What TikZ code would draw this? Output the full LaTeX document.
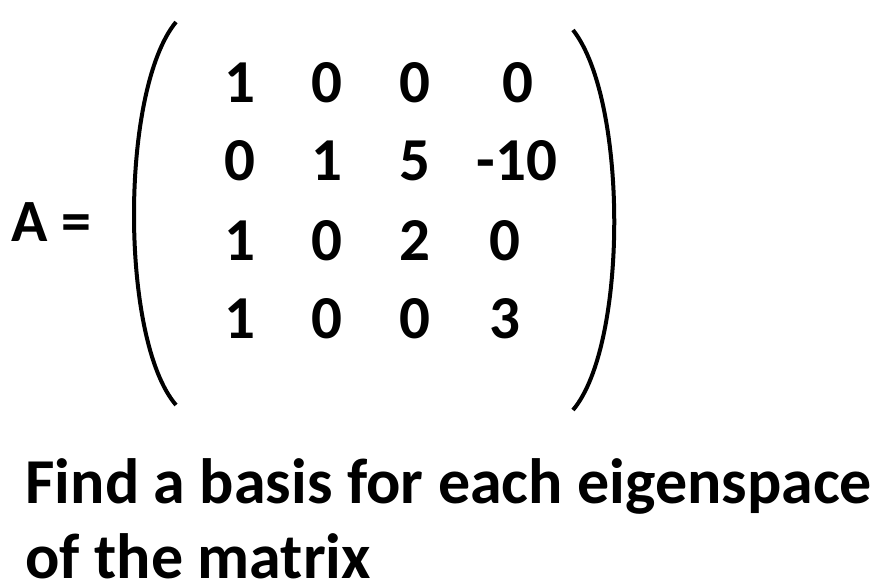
\documentclass[tikz,border=0pt]{standalone}
\usepackage{fontspec}
\setmainfont{Carlito}
\begin{document}
\begin{tikzpicture}[x=1pt,y=-1pt,
  ent/.style={font=\fontsize{61}{63}\selectfont\bfseries,anchor=base},
  par/.style={line width=4pt}]
\useasboundingbox (0,0) rectangle (875,588);
\fill[white] (0,0) rectangle (875,588);
\node[anchor=base west,font=\fontsize{60}{62}\selectfont\bfseries] (lhs) at (8,241) {A =};
\draw[par] (176,22) .. controls (120,90) and (120,340) .. (176,405);
\draw[par] (573,30) .. controls (628,100) and (628,345) .. (573,410);
\node[ent] (a11) at (240,103) {1};
\node[ent] (a12) at (327,103) {0};
\node[ent] (a13) at (415,103) {0};
\node[ent] (a14) at (518,103) {0};
\node[ent] (a21) at (240,181) {0};
\node[ent] (a22) at (327,181) {1};
\node[ent] (a23) at (415,181) {5};
\node[ent] (a24) at (517,181) {-10};
\node[ent] (a31) at (240,260) {1};
\node[ent] (a32) at (327,260) {0};
\node[ent] (a33) at (415,260) {2};
\node[ent] (a34) at (505,260) {0};
\node[ent] (a41) at (240,338) {1};
\node[ent] (a42) at (327,338) {0};
\node[ent] (a43) at (415,338) {0};
\node[ent] (a44) at (505,338) {3};
\node[anchor=base west,font=\fontsize{64}{66}\selectfont\bfseries] (q1) at (22,503) {Find a basis for each eigenspace};
\node[anchor=base west,font=\fontsize{64}{66}\selectfont\bfseries] (q2) at (22,578) {of the matrix};
\end{tikzpicture}
\end{document}
